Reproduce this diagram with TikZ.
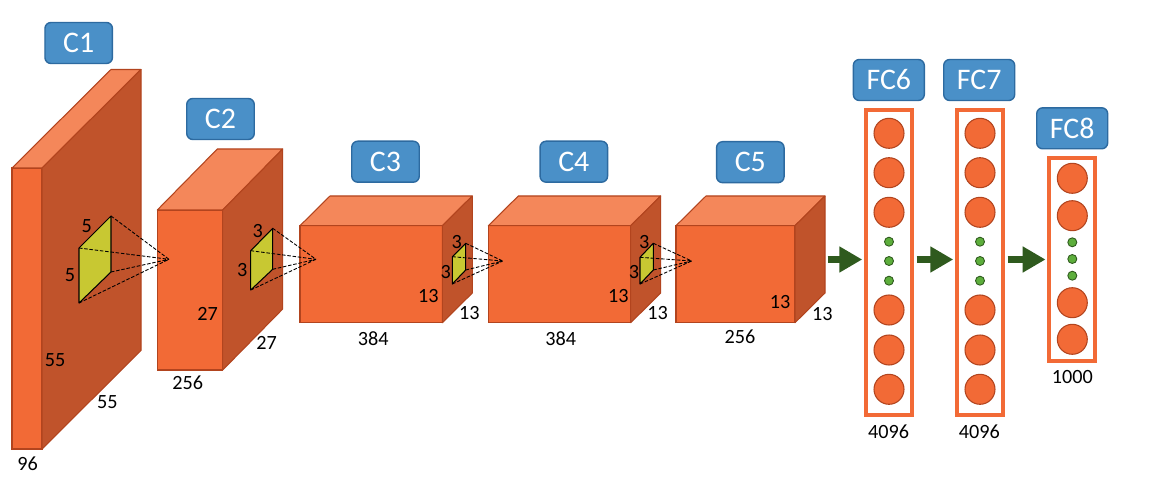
\documentclass[tikz,border=0pt]{standalone}
\usepackage{fontspec}
\setmainfont{Carlito}
\usetikzlibrary{arrows.meta}
\definecolor{frontorange}{HTML}{F26A36}
\definecolor{sideorange}{HTML}{C0532B}
\definecolor{toporange}{HTML}{F4875A}
\definecolor{edgeorange}{HTML}{B2441E}
\definecolor{labelblue}{HTML}{4A90C8}
\definecolor{labeledge}{HTML}{2D6AA0}
\definecolor{filteryellow}{HTML}{C8C832}
\definecolor{dotgreen}{HTML}{5DAE3C}
\definecolor{arrowgreen}{HTML}{2F5A1E}

\begin{document}
\begin{tikzpicture}[x=0.02cm, y=-0.02cm,
    frontface/.style={fill=frontorange, draw=edgeorange, line width=0.6pt},
    topface/.style={fill=toporange, draw=edgeorange, line width=0.6pt, line join=round},
    sideface/.style={fill=sideorange, draw=edgeorange, line width=0.6pt, line join=round},
    layer/.style={rounded corners=0.12cm, fill=labelblue, draw=labeledge, line width=0.8pt,
        text=white, font=\fontsize{17}{17}\selectfont, minimum width=1.35cm,
        minimum height=0.82cm, inner sep=0pt},
    dim/.style={font=\fontsize{11.5}{12}\selectfont, inner sep=0pt},
    filter/.style={fill=filteryellow, draw=black, line width=0.6pt, line join=round},
    ray/.style={line width=0.5pt, dash pattern=on 2pt off 1pt},
    fcbox/.style={draw=frontorange, line width=2.3pt, fill=white, minimum width=0.92cm, inner sep=0pt},
    unit/.style={circle, fill=frontorange, draw=edgeorange, line width=0.6pt, minimum size=0.6cm, inner sep=0pt},
    dot/.style={circle, fill=dotgreen, draw=arrowgreen, line width=0.5pt, minimum size=0.18cm, inner sep=0pt},
    flow/.style={draw=arrowgreen, line width=4.5pt, -{Triangle[length=13pt, width=14pt]}}
]
    \useasboundingbox[fill=white] (0,0) rectangle (1156,486);

    % C1 block
    \draw[frontface] (12,168) rectangle (42,449);
    \draw[topface] (12,168) -- ++(99,-98.5) -- ++(30,0) -- ++(-99,98.5) -- cycle;
    \draw[sideface] (42,168) -- ++(99,-98.5) -- ++(0,281) -- ++(-99,98.5) -- cycle;
    \node[layer] (c1) at (78.7,43) {C1};
    \node[dim] (c1h) at (55,360) {55};
    \node[dim] (c1w) at (107.3,402.3) {55};
    \node[dim] (c1d) at (27.7,463.3) {96};

    % C2 block
    \draw[frontface] (157.3,210) rectangle (222.7,370);
    \draw[topface] (157.3,210) -- ++(60,-61) -- ++(65.4,0) -- ++(-60,61) -- cycle;
    \draw[sideface] (222.7,210) -- ++(60,-61) -- ++(0,160) -- ++(-60,61) -- cycle;
    \node[layer] (c2) at (220.5,119) {C2};
    \node[dim] (c2h) at (207.7,314) {27};
    \node[dim] (c2w) at (266.7,343.3) {27};
    \node[dim] (c2d) at (187.7,382.3) {256};

    % C3 block
    \draw[frontface] (300,225.7) rectangle (442.3,322.7);
    \draw[topface] (300,225.7) -- ++(30,-29.7) -- ++(142.3,0) -- ++(-30,29.7) -- cycle;
    \draw[sideface] (442.3,225.7) -- ++(30,-29.7) -- ++(0,97) -- ++(-30,29.7) -- cycle;
    \node[layer] (c3) at (385.5,161.7) {C3};
    \node[dim] (c3h) at (428.3,296) {13};
    \node[dim] (c3w) at (469.3,312.7) {13};
    \node[dim] (c3d) at (373.3,338.3) {384};

    % C4 block
    \draw[frontface] (488.3,225.7) rectangle (630.7,322.7);
    \draw[topface] (488.3,225.7) -- ++(30,-29.7) -- ++(142.4,0) -- ++(-30,29.7) -- cycle;
    \draw[sideface] (630.7,225.7) -- ++(30,-29.7) -- ++(0,97) -- ++(-30,29.7) -- cycle;
    \node[layer] (c4) at (573.8,161.7) {C4};
    \node[dim] (c4h) at (618.3,296) {13};
    \node[dim] (c4w) at (657.7,312.7) {13};
    \node[dim] (c4d) at (560.7,338.3) {384};

    % C5 block
    \draw[frontface] (676,225.7) rectangle (795,322.7);
    \draw[topface] (676,225.7) -- ++(30,-29.7) -- ++(119,0) -- ++(-30,29.7) -- cycle;
    \draw[sideface] (795,225.7) -- ++(30,-29.7) -- ++(0,97) -- ++(-30,29.7) -- cycle;
    \node[layer] (c5) at (750.3,162.2) {C5};
    \node[dim] (c5h) at (780,301.7) {13};
    \node[dim] (c5w) at (822.3,314) {13};
    \node[dim] (c5d) at (740,336.7) {256};

    % Filter on C1, rays to C2
    \coordinate (k1a) at (79,248);
    \coordinate (k1b) at (111,216);
    \coordinate (k1c) at (111,272);
    \coordinate (k1d) at (79,303);
    \coordinate (k1tip) at (169,259.3);
    \draw[filter] (k1a) -- (k1b) -- (k1c) -- (k1d) -- cycle;
    \draw[ray] (k1a) -- (k1tip) (k1b) -- (k1tip) (k1c) -- (k1tip) (k1d) -- (k1tip);
    \node[dim] (k1w) at (86.7,225.7) {5};
    \node[dim] (k1h) at (70,275) {5};

    % Filter on C2, rays to C3
    \coordinate (k2a) at (250.7,250.7);
    \coordinate (k2b) at (272.7,228.3);
    \coordinate (k2c) at (272.7,269.3);
    \coordinate (k2d) at (250.7,290);
    \coordinate (k2tip) at (316,259.3);
    \draw[filter] (k2a) -- (k2b) -- (k2c) -- (k2d) -- cycle;
    \draw[ray] (k2a) -- (k2tip) (k2b) -- (k2tip) (k2c) -- (k2tip) (k2d) -- (k2tip);
    \node[dim] (k2w) at (257.7,230.7) {3};
    \node[dim] (k2h) at (242.3,270) {3};

    % Filter on C3, rays to C4
    \coordinate (k3a) at (452.3,256.7);
    \coordinate (k3b) at (465.7,243.3);
    \coordinate (k3c) at (465.7,270);
    \coordinate (k3d) at (452.3,284);
    \coordinate (k3tip) at (502.7,261);
    \draw[filter] (k3a) -- (k3b) -- (k3c) -- (k3d) -- cycle;
    \draw[ray] (k3a) -- (k3tip) (k3b) -- (k3tip) (k3c) -- (k3tip) (k3d) -- (k3tip);
    \node[dim] (k3w) at (456.7,242.3) {3};
    \node[dim] (k3h) at (445.7,271.7) {3};

    % Filter on C4, rays to C5
    \coordinate (k4a) at (640,257.3);
    \coordinate (k4b) at (653.3,243.3);
    \coordinate (k4c) at (653.3,270);
    \coordinate (k4d) at (640,284);
    \coordinate (k4tip) at (691.7,261);
    \draw[filter] (k4a) -- (k4b) -- (k4c) -- (k4d) -- cycle;
    \draw[ray] (k4a) -- (k4tip) (k4b) -- (k4tip) (k4c) -- (k4tip) (k4d) -- (k4tip);
    \node[dim] (k4w) at (644.3,242.3) {3};
    \node[dim] (k4h) at (634,271.7) {3};

    % FC6
    \node[fcbox, minimum height=6.1cm] (fc6) at (889,262.2) {};
    \foreach \y [count=\i] in {133.3,172.7,212.3,310,350,389.3}
        \node[unit] (fc6u\i) at (889,\y) {};
    \foreach \y [count=\i] in {241.7,261,280.7}
        \node[dot] (fc6d\i) at (889,\y) {};
    \node[layer, minimum width=1.42cm] (fc6l) at (888.8,80) {FC6};
    \node[dim] (fc6n) at (888.7,431.7) {4096};

    % FC7
    \node[fcbox, minimum height=6.1cm] (fc7) at (980,262.2) {};
    \foreach \y [count=\i] in {133.3,172.7,212.3,310,350,389.3}
        \node[unit] (fc7u\i) at (980,\y) {};
    \foreach \y [count=\i] in {241.7,261,280.7}
        \node[dot] (fc7d\i) at (980,\y) {};
    \node[layer, minimum width=1.42cm] (fc7l) at (979.2,80) {FC7};
    \node[dim] (fc7n) at (979.3,431.7) {4096};

    % FC8
    \node[fcbox, minimum height=4.05cm] (fc8) at (1072.3,259.3) {};
    \foreach \y [count=\i] in {178.3,215.7,302.7,339.3}
        \node[unit] (fc8u\i) at (1072.3,\y) {};
    \foreach \y [count=\i] in {242.3,259,275.7}
        \node[dot] (fc8d\i) at (1072.3,\y) {};
    \node[layer, minimum width=1.42cm] (fc8l) at (1072.2,128.3) {FC8};
    \node[dim] (fc8n) at (1072.3,377.3) {1000};

    % Arrows
    \coordinate (c5out) at (827.7,259.5);
    \draw[flow, shorten >=1pt] (c5out) -- (c5out -| fc6.west);
    \draw[flow, shorten <=1.5pt, shorten >=1pt] (fc6.east |- c5out) -- (fc7.west |- c5out);
    \draw[flow, shorten <=1.5pt, shorten >=1pt] (fc7.east |- c5out) -- (fc8.west |- c5out);
\end{tikzpicture}
\end{document}
